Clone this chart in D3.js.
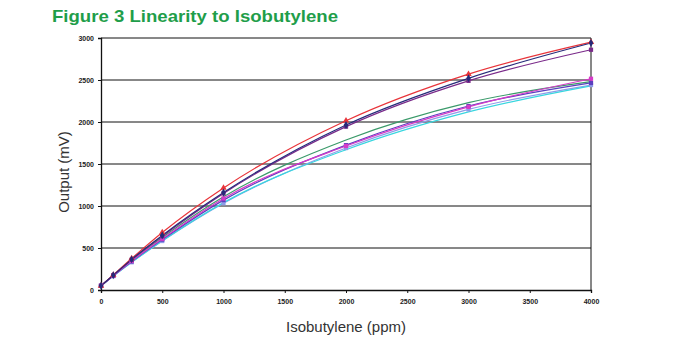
<!DOCTYPE html>
<html>
<head>
<meta charset="utf-8">
<script src="https://cdn.jsdelivr.net/npm/d3@7/dist/d3.min.js"></script>
<style>
  html, body { margin: 0; padding: 0; background: #fff; }
  svg { display: block; }
</style>
</head>
<body>
<svg id="chart" width="676" height="340"></svg>
<script>
// Concentrations (ppm) at which each sensor was measured
const concentrations = [0, 100, 250, 500, 1000, 2000, 3000, 4000];

// Sensor outputs (mV), one array per sensor
const sensorRed      = [50, 180, 375, 685, 1215, 2015, 2570, 2950];
const sensorNavy     = [50, 175, 365, 650, 1160, 1965, 2520, 2940];
const sensorPurple   = [50, 175, 360, 640, 1150, 1945, 2490, 2860];
const sensorGreen    = [50, 172, 355, 625, 1110, 1785, 2230, 2480];
const sensorMagenta  = [50, 170, 345, 610, 1090, 1715, 2180, 2515];
const sensorViolet   = [50, 170, 340, 600, 1070, 1725, 2190, 2465];
const sensorCyan     = [45, 165, 330, 585, 1040, 1670, 2120, 2430];
const sensorLavender = [50, 165, 330, 583, 1033, 1690, 2150, 2440];

const xTicks = [0, 500, 1000, 1500, 2000, 2500, 3000, 3500, 4000];
const yTicks = [0, 500, 1000, 1500, 2000, 2500, 3000];

const series = [
  { values: sensorGreen,    color: "#3a9a6a", marker: "none" },
  { values: sensorLavender, color: "#8f9be8", marker: "square" },
  { values: sensorCyan,     color: "#38d6df", marker: "none" },
  { values: sensorViolet,   color: "#5b3fbf", marker: "square" },
  { values: sensorMagenta,  color: "#d63bc8", marker: "square" },
  { values: sensorPurple,   color: "#7a2a8a", marker: "square" },
  { values: sensorRed,      color: "#e8343a", marker: "triangle" },
  { values: sensorNavy,     color: "#262a7a", marker: "diamond" }
];

const svg = d3.select("#chart");
const margin = { left: 101, right: 85, top: 38, bottom: 50 };
const W = 676, H = 340;

const x = d3.scaleLinear().domain([0, 4000]).range([margin.left, W - margin.right]);
const y = d3.scaleLinear().domain([0, 3000]).range([H - margin.bottom, margin.top]);

// Title
svg.append("text")
  .attr("x", 52).attr("y", 22)
  .attr("font-family", "Liberation Sans, Arial, sans-serif")
  .attr("font-weight", "bold")
  .attr("font-size", 17)
  .attr("fill", "#1f9e4a")
  .attr("textLength", 286)
  .attr("lengthAdjust", "spacingAndGlyphs")
  .text("Figure 3 Linearity to Isobutylene");

// Horizontal gridlines (including top border at 3000)
svg.append("g")
  .selectAll("line")
  .data(yTicks.filter(d => d > 0))
  .join("line")
  .attr("x1", x(0)).attr("x2", x(4000))
  .attr("y1", d => y(d)).attr("y2", d => y(d))
  .attr("stroke", "#111").attr("stroke-width", 1);

// Right border
svg.append("line")
  .attr("x1", x(4000)).attr("x2", x(4000))
  .attr("y1", y(3000)).attr("y2", y(0))
  .attr("stroke", "#111").attr("stroke-width", 1);

// Axes
const xAxis = d3.axisBottom(x).tickValues(xTicks).tickSize(3).tickFormat(d3.format("d"));
const yAxis = d3.axisLeft(y).tickValues(yTicks).tickSize(3).tickFormat(d3.format("d"));

const gx = svg.append("g").attr("transform", `translate(0,${y(0)})`).call(xAxis);
const gy = svg.append("g").attr("transform", `translate(${x(0)},0)`).call(yAxis);

[gx, gy].forEach(g => {
  g.select(".domain").attr("stroke", "#111").attr("stroke-width", 1.3);
  g.selectAll(".tick line").attr("stroke", "#111");
  g.selectAll(".tick text")
    .attr("font-family", "Liberation Sans, Arial, sans-serif")
    .attr("font-size", 7)
    .attr("font-weight", "bold")
    .attr("fill", "#222");
});
gx.selectAll(".tick text").attr("dy", "1.2em");
gy.selectAll(".tick text").attr("dx", "-1px");

// Series lines (smooth curves through the measured points)
const line = d3.line()
  .x((d, i) => x(concentrations[i]))
  .y(d => y(d))
  .curve(d3.curveMonotoneX);

const gSeries = svg.append("g");
series.forEach(s => {
  gSeries.append("path")
    .attr("d", line(s.values))
    .attr("fill", "none")
    .attr("stroke", s.color)
    .attr("stroke-width", 1.2);
});

// Markers
const symbolFor = {
  square: d3.symbolSquare,
  triangle: d3.symbolTriangle,
  diamond: d3.symbolDiamond
};
series.forEach(s => {
  if (s.marker === "none") return;
  gSeries.append("g")
    .selectAll("path")
    .data(s.values)
    .join("path")
    .attr("transform", (d, i) => `translate(${x(concentrations[i])},${y(d)})`)
    .attr("d", d3.symbol().type(symbolFor[s.marker]).size(18))
    .attr("fill", s.color);
});

// Axis titles
svg.append("text")
  .attr("x", x(2000)).attr("y", 332)
  .attr("text-anchor", "middle")
  .attr("font-family", "Liberation Sans, Arial, sans-serif")
  .attr("font-size", 15)
  .attr("fill", "#333")
  .text("Isobutylene (ppm)");

svg.append("text")
  .attr("transform", `translate(69,${(y(0) + y(3000)) / 2 + 8}) rotate(-90)`)
  .attr("text-anchor", "middle")
  .attr("font-family", "Liberation Sans, Arial, sans-serif")
  .attr("font-size", 15)
  .attr("fill", "#333")
  .text("Output (mV)");
</script>
</body>
</html>
